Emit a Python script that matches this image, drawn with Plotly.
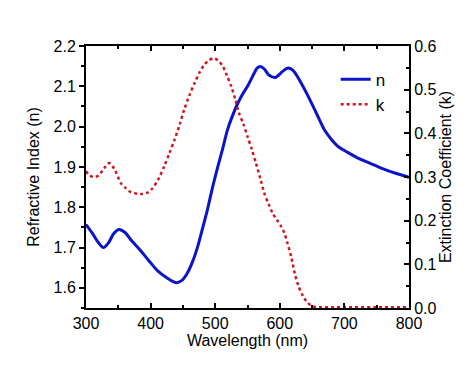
import plotly.graph_objects as go

# n (refractive index) data
wl_n = [300, 310, 318, 327, 335, 343, 351, 360, 370, 383, 397, 411, 425, 439, 448, 457, 465, 473, 480, 488, 496, 504, 512, 519, 527, 535, 543, 550, 558, 565, 570, 576, 583, 593, 603, 610, 615, 620, 627, 633, 643, 654, 662, 669, 679, 690, 705, 721, 740, 757, 778, 798, 800]
n_vals = [1.757, 1.735, 1.715, 1.700, 1.712, 1.735, 1.745, 1.738, 1.718, 1.695, 1.668, 1.642, 1.625, 1.613, 1.618, 1.637, 1.665, 1.703, 1.745, 1.794, 1.850, 1.900, 1.948, 1.992, 2.028, 2.058, 2.082, 2.100, 2.125, 2.145, 2.149, 2.143, 2.128, 2.122, 2.135, 2.144, 2.145, 2.140, 2.125, 2.108, 2.078, 2.042, 2.015, 1.992, 1.970, 1.951, 1.936, 1.922, 1.909, 1.897, 1.885, 1.875, 1.874]

# k (extinction coefficient) data
wl_k = [300, 306, 313, 320, 328, 336, 344, 354, 362, 370, 385, 395, 403, 412, 421, 429, 437, 445, 452, 460, 468, 476, 483, 490, 498, 505, 512, 518, 525, 531, 537, 544, 550, 557, 563, 570, 576, 583, 589, 596, 602, 607, 612, 618, 623, 629, 636, 643, 651, 660, 680, 700, 750, 800]
k_vals = [0.313, 0.303, 0.300, 0.304, 0.320, 0.332, 0.318, 0.286, 0.274, 0.265, 0.261, 0.264, 0.274, 0.295, 0.324, 0.354, 0.385, 0.420, 0.454, 0.487, 0.515, 0.540, 0.557, 0.567, 0.572, 0.566, 0.553, 0.533, 0.507, 0.478, 0.446, 0.420, 0.393, 0.362, 0.332, 0.296, 0.263, 0.237, 0.217, 0.201, 0.187, 0.172, 0.148, 0.115, 0.080, 0.050, 0.027, 0.012, 0.004, 0.002, 0.002, 0.002, 0.002, 0.002]

font = "Liberation Sans, Arial, sans-serif"

fig = go.Figure()
fig.add_trace(go.Scatter(x=wl_n, y=n_vals, name="n", mode="lines",
                         line=dict(color="#0A14C8", width=3, shape="spline", smoothing=0.8)))
fig.add_trace(go.Scatter(x=wl_k, y=k_vals, name="k", mode="lines", yaxis="y2",
                         line=dict(color="#D0141E", width=2.5, dash="dot", shape="spline", smoothing=0.8)))

fig.update_layout(
    width=474, height=366,
    margin=dict(l=78, r=73, t=38, b=66),
    paper_bgcolor="white", plot_bgcolor="white",
    font=dict(family=font, size=16, color="black"),
    showlegend=True,
    legend=dict(x=0.773, y=0.94, xanchor="left", yanchor="top", bgcolor="rgba(0,0,0,0)",
                font=dict(size=17), tracegroupgap=0, itemwidth=30),
    xaxis=dict(range=[300, 800], tickvals=[300, 400, 500, 600, 700, 800], automargin=False,
               showline=True, linecolor="black", linewidth=2, mirror="ticks",
               ticks="inside", ticklen=5, tickwidth=1.5, tickcolor="black",
               minor=dict(ticks="inside", ticklen=3, tickwidth=1.5, dtick=50, tick0=300, tickcolor="black"),
               showgrid=False, zeroline=False,
               title=dict(text="Wavelength (nm)", font=dict(size=16), standoff=3),
               tickfont=dict(size=16)),
    yaxis=dict(range=[1.55, 2.2], tickvals=[1.6, 1.7, 1.8, 1.9, 2.0, 2.1, 2.2], tickformat=".1f",
               automargin=False,
               showline=True, linecolor="black", linewidth=2,
               ticks="outside", ticklen=5, tickwidth=1.5, tickcolor="black",
               minor=dict(ticks="outside", ticklen=3, tickwidth=1.5, dtick=0.05, tick0=1.55, tickcolor="black"),
               showgrid=False, zeroline=False,
               title=dict(text="Refractive Index (n)", font=dict(size=16), standoff=10),
               tickfont=dict(size=16)),
    yaxis2=dict(range=[0, 0.6], tickvals=[0, 0.1, 0.2, 0.3, 0.4, 0.5, 0.6], tickformat=".1f",
                overlaying="y", side="right", automargin=False,
                showline=True, linecolor="black", linewidth=2,
                ticks="inside", ticklen=5, tickwidth=1.5, tickcolor="black",
                minor=dict(ticks="inside", ticklen=3, tickwidth=1.5, dtick=0.05, tick0=0, tickcolor="black"),
                showgrid=False, zeroline=False,
                title=dict(text="Extinction Coefficient (k)", font=dict(size=16), standoff=0),
                tickfont=dict(size=16)),
)

fig.write_html("out.html")
